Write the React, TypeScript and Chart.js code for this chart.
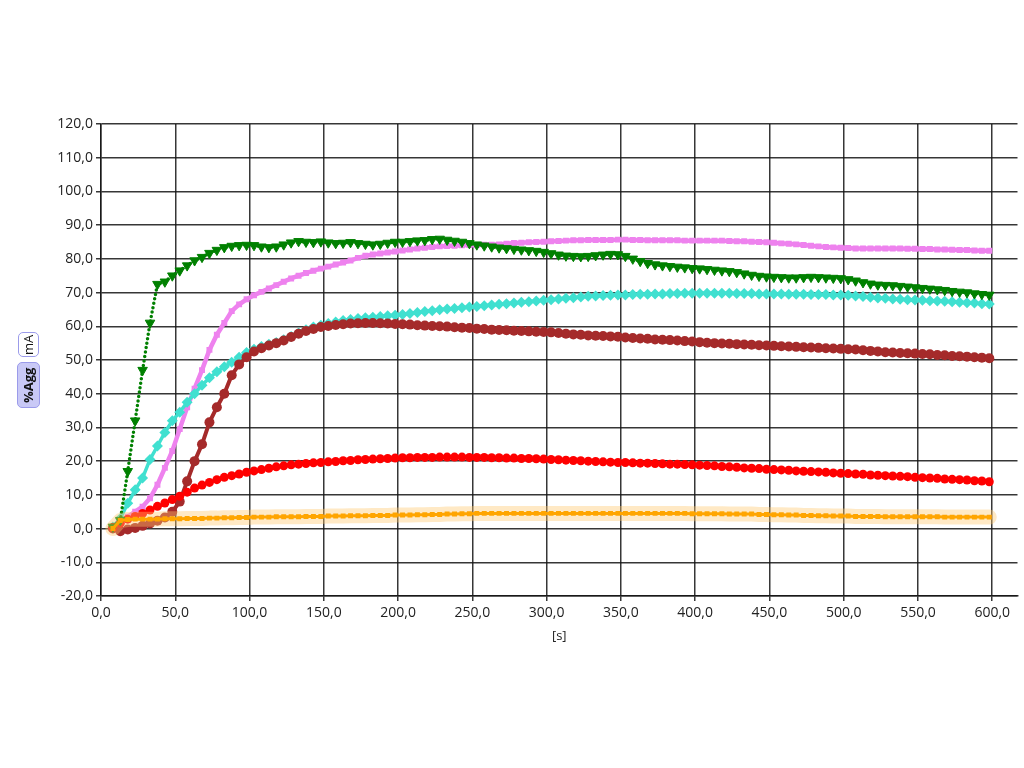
import React, { useEffect, useRef } from "react";
import { Chart, registerables } from "chart.js";

Chart.register(...registerables);

// time axis (s)
const times = [
  8, 13, 18, 23, 28, 33, 38, 43, 48, 53,
  58, 63, 68, 73, 78, 83, 88, 93, 98, 103,
  108, 113, 118, 123, 128, 133, 138, 143, 148, 153,
  158, 163, 168, 173, 178, 183, 188, 193, 198, 203,
  208, 213, 218, 223, 228, 233, 238, 243, 248, 253,
  258, 263, 268, 273, 278, 283, 288, 293, 298, 303,
  308, 313, 318, 323, 328, 333, 338, 343, 348, 353,
  358, 363, 368, 373, 378, 383, 388, 393, 398, 403,
  408, 413, 418, 423, 428, 433, 438, 443, 448, 453,
  458, 463, 468, 473, 478, 483, 488, 493, 498, 503,
  508, 513, 518, 523, 528, 533, 538, 543, 548, 553,
  558, 563, 568, 573, 578, 583, 588, 593, 598,
];

const greenValues = [
  0.5, 2.5, 17, 32, 47, 61, 72.5, 73.2, 75, 76.5,
  78, 79.5, 80.5, 81.7, 82.6, 83.4, 83.8, 84, 84.1, 84,
  83.6, 83.4, 83.6, 84.2, 84.8, 85.2, 85, 84.9, 85.1, 84.8,
  84.6, 84.7, 84.9, 84.6, 84.4, 84.2, 84.4, 84.7, 85, 85,
  85.2, 85.4, 85.5, 85.8, 85.9, 85.6, 85.3, 85, 84.6, 84.2,
  83.9, 83.6, 83.3, 83.1, 82.9, 82.7, 82.5, 82.3, 82, 81.6,
  81.2, 80.9, 80.8, 80.7, 80.8, 81, 81.2, 81.4, 81.3, 80.8,
  80, 79.3, 78.7, 78.3, 78, 77.8, 77.6, 77.4, 77.2, 77.1,
  76.9, 76.7, 76.5, 76.3, 76, 75.6, 75.2, 74.9, 74.7, 74.6,
  74.5, 74.4, 74.4, 74.5, 74.6, 74.5, 74.4, 74.3, 74.2, 73.9,
  73.5, 73, 72.6, 72.3, 72.2, 72.1, 71.9, 71.7, 71.5, 71.3,
  71.1, 70.9, 70.7, 70.4, 70.2, 70, 69.7, 69.5, 69.3,
];

const violetValues = [
  0.5, 2.5, 3.5, 5, 6.5, 9, 13, 18, 23, 29.5,
  36, 41.5, 47, 53, 57.5, 61, 64.5, 66.5, 68, 69.2,
  70.2, 71.2, 72.2, 73.2, 74.2, 75, 75.8, 76.5, 77.1, 77.7,
  78.3, 78.9, 79.5, 80.3, 80.9, 81.3, 81.6, 81.9, 82.2, 82.5,
  82.8, 83.1, 83.3, 83.5, 83.7, 83.8, 83.9, 84, 84.1, 84.1,
  84.2, 84.2, 84.3, 84.5, 84.7, 84.8, 84.9, 85, 85.1, 85.2,
  85.3, 85.4, 85.5, 85.5, 85.6, 85.6, 85.6, 85.6, 85.7, 85.7,
  85.6, 85.6, 85.5, 85.5, 85.5, 85.5, 85.5, 85.4, 85.4, 85.4,
  85.4, 85.4, 85.4, 85.3, 85.2, 85.2, 85.1, 85, 84.9, 84.8,
  84.6, 84.5, 84.3, 84.1, 83.9, 83.7, 83.5, 83.4, 83.3, 83.2,
  83.1, 83.1, 83.1, 83.1, 83.1, 83.1, 83.1, 83, 83, 82.9,
  82.9, 82.8, 82.8, 82.7, 82.6, 82.6, 82.5, 82.4, 82.4,
];

const turquoiseValues = [
  0.5, 3, 7.5, 11.5, 15, 20.5, 24.5, 28.5, 32, 34.5,
  37.5, 40, 42.5, 44.7, 46.5, 48, 49.3, 50.8, 52.2, 53.2,
  54, 54.7, 55.2, 56, 57, 58, 59, 59.8, 60.3, 60.8,
  61.3, 61.7, 62, 62.3, 62.5, 62.7, 62.9, 63.1, 63.3, 63.5,
  63.8, 64.1, 64.4, 64.6, 64.9, 65.1, 65.3, 65.5, 65.7, 65.9,
  66.1, 66.3, 66.5, 66.7, 66.9, 67.1, 67.3, 67.5, 67.7, 67.9,
  68.1, 68.3, 68.5, 68.7, 68.9, 69, 69.1, 69.2, 69.3, 69.3,
  69.4, 69.5, 69.5, 69.6, 69.6, 69.7, 69.7, 69.8, 69.8, 69.8,
  69.8, 69.8, 69.8, 69.8, 69.7, 69.7, 69.7, 69.6, 69.6, 69.6,
  69.6, 69.5, 69.5, 69.5, 69.4, 69.4, 69.4, 69.3, 69.3, 69.2,
  69, 68.8, 68.6, 68.4, 68.3, 68.1, 68, 67.9, 67.8, 67.7,
  67.6, 67.5, 67.4, 67.3, 67.1, 67, 66.9, 66.7, 66.6,
];

const brownValues = [
  0, -0.8, -0.3, 0.2, 0.8, 1.5, 2.3, 3.3, 5, 8,
  14, 20, 25, 31.5, 36, 40, 45.5, 48.7, 50.8, 52.5,
  53.5, 54.3, 55, 55.8, 56.8, 57.8, 58.6, 59.2, 59.8, 60.1,
  60.4, 60.6, 60.8, 60.9, 61, 61, 60.9, 60.8, 60.7, 60.6,
  60.5, 60.3, 60.2, 60.1, 60, 59.9, 59.7, 59.6, 59.5, 59.3,
  59.2, 59, 58.9, 58.8, 58.7, 58.6, 58.5, 58.4, 58.3, 58.2,
  58, 57.8, 57.6, 57.5, 57.3, 57.2, 57.1, 57, 56.9, 56.7,
  56.5, 56.4, 56.3, 56.1, 56, 55.9, 55.8, 55.6, 55.5, 55.3,
  55.1, 55, 54.9, 54.8, 54.7, 54.6, 54.5, 54.4, 54.3, 54.2,
  54.1, 54, 53.9, 53.8, 53.7, 53.6, 53.5, 53.4, 53.3, 53.2,
  53.1, 52.9, 52.7, 52.5, 52.3, 52.2, 52.1, 52, 51.9, 51.8,
  51.7, 51.5, 51.4, 51.2, 51.1, 51, 50.8, 50.7, 50.5,
];

const redValues = [
  0.3, 1.6, 2.8, 3.6, 4.5, 5.5, 6.6, 7.6, 8.6, 9.6,
  10.8, 12, 12.9, 13.7, 14.5, 15.2, 15.7, 16.2, 16.7, 17.1,
  17.5, 17.9, 18.3, 18.6, 18.9, 19.1, 19.3, 19.5, 19.6, 19.8,
  19.9, 20.1, 20.2, 20.4, 20.5, 20.6, 20.7, 20.8, 20.9, 21,
  21, 21.1, 21.1, 21.1, 21.2, 21.2, 21.2, 21.2, 21.1, 21.1,
  21.1, 21, 21, 20.9, 20.9, 20.8, 20.8, 20.7, 20.6, 20.5,
  20.4, 20.3, 20.2, 20.1, 20, 19.9, 19.8, 19.7, 19.6, 19.6,
  19.5, 19.4, 19.4, 19.3, 19.2, 19.1, 19.1, 19, 18.9, 18.8,
  18.7, 18.6, 18.4, 18.3, 18.2, 18, 17.9, 17.8, 17.6, 17.5,
  17.4, 17.3, 17.1, 17, 16.9, 16.8, 16.7, 16.5, 16.4, 16.3,
  16.2, 16.1, 15.9, 15.8, 15.7, 15.6, 15.5, 15.4, 15.2, 15.1,
  15, 14.9, 14.7, 14.6, 14.5, 14.4, 14.2, 14.1, 13.9,
];

const orangeValues = [
  0, 2.4, 2.7, 2.8, 2.8, 2.8, 2.8, 2.9, 2.9, 2.9,
  3, 3, 3, 3.1, 3.1, 3.2, 3.2, 3.3, 3.3, 3.4,
  3.4, 3.4, 3.5, 3.5, 3.5, 3.5, 3.6, 3.6, 3.6, 3.7,
  3.7, 3.7, 3.8, 3.8, 3.8, 3.9, 3.9, 3.9, 4, 4,
  4, 4.1, 4.1, 4.2, 4.2, 4.3, 4.3, 4.4, 4.4, 4.5,
  4.5, 4.5, 4.5, 4.5, 4.5, 4.5, 4.5, 4.5, 4.5, 4.5,
  4.5, 4.5, 4.5, 4.5, 4.5, 4.5, 4.5, 4.5, 4.5, 4.5,
  4.5, 4.5, 4.5, 4.5, 4.5, 4.5, 4.5, 4.5, 4.4, 4.4,
  4.4, 4.4, 4.4, 4.3, 4.3, 4.3, 4.3, 4.2, 4.2, 4.1,
  4.1, 4, 4, 3.9, 3.9, 3.8, 3.8, 3.7, 3.7, 3.7,
  3.6, 3.6, 3.6, 3.6, 3.5, 3.5, 3.5, 3.5, 3.5, 3.5,
  3.5, 3.5, 3.4, 3.4, 3.4, 3.4, 3.4, 3.4, 3.4,
];

const xTitle = "[s]";
const unitButtons = ["mA", "%Agg"];

const fmt = (v: number) => v.toFixed(1).replace(".", ",");
const GRID = "rgba(20,20,20,0.85)";

export default function App() {
  const ref = useRef<HTMLCanvasElement>(null);

  useEffect(() => {
    document.body.style.margin = "0";
    const pts = (vals: number[]) => times.map((t, i) => ({ x: t, y: vals[i] }));
    const chart = new Chart(ref.current as HTMLCanvasElement, {
      type: "line",
      data: {
        datasets: [
          {
            label: "orange",
            data: pts(orangeValues),
            borderColor: "#FFA500",
            backgroundColor: "#FFA500",
            borderWidth: 3,
            pointStyle: "rect",
            pointRadius: 3.5,
            pointBorderWidth: 0,
          },
          {
            label: "orangeHalo",
            data: pts(orangeValues),
            borderColor: "rgba(255,200,110,0.4)",
            borderWidth: 15,
            borderCapStyle: "round",
            borderJoinStyle: "round",
            pointRadius: 0,
          },
          {
            label: "green",
            data: pts(greenValues),
            borderColor: "#008000",
            backgroundColor: "#008000",
            borderWidth: 3.5,
            borderDash: [0, 4.5],
            borderCapStyle: "round",
            pointStyle: "triangle",
            pointRotation: 180,
            pointRadius: 5.5,
            pointBorderWidth: 1,
          },
          {
            label: "red",
            data: pts(redValues),
            borderColor: "#FF0000",
            backgroundColor: "#FF0000",
            borderWidth: 2.5,
            pointStyle: "circle",
            pointRadius: 4.5,
            pointBorderWidth: 0,
          },
          {
            label: "brown",
            data: pts(brownValues),
            borderColor: "#A52A2A",
            backgroundColor: "#A52A2A",
            borderWidth: 4,
            pointStyle: "circle",
            pointRadius: 5,
            pointBorderWidth: 0,
          },
          {
            label: "turquoise",
            data: pts(turquoiseValues),
            borderColor: "#40E0D0",
            backgroundColor: "#40E0D0",
            borderWidth: 3.5,
            pointStyle: "rectRot",
            pointRadius: 5.5,
            pointBorderWidth: 0,
          },
          {
            label: "violet",
            data: pts(violetValues),
            borderColor: "#EE82EE",
            backgroundColor: "#EE82EE",
            borderWidth: 4.5,
            pointStyle: "rect",
            pointRadius: 4.2,
            pointBorderWidth: 0,
          },
        ],
      },
      options: {
        responsive: false,
        animation: false,
        devicePixelRatio: 1,
        layout: { padding: { left: 0, top: 124, right: 4, bottom: 0 } },
        plugins: { legend: { display: false }, tooltip: { enabled: false } },
        scales: {
          x: {
            type: "linear",
            min: 0,
            max: 617,
            afterFit: (s: any) => {
              s.height = 172;
            },
            ticks: {
              stepSize: 50,
              includeBounds: false,
              padding: 4,
              color: "#222",
              font: { family: "'Open Sans', sans-serif", size: 14 },
              callback: (v: any) => fmt(Number(v)),
              maxRotation: 0,
            },
            grid: { color: GRID, lineWidth: 1.5, tickLength: 5 },
            border: { color: GRID, width: 1.5 },
            title: {
              display: true,
              text: xTitle,
              color: "#222",
              font: { family: "'Open Sans', sans-serif", size: 13 },
              padding: { top: 0, bottom: 124 },
            },
          },
          y: {
            type: "linear",
            min: -20,
            max: 120,
            afterFit: (s: any) => {
              s.width = 101;
            },
            ticks: {
              stepSize: 10,
              padding: 3,
              color: "#222",
              font: { family: "'Open Sans', sans-serif", size: 14 },
              callback: (v: any) => fmt(Number(v)),
            },
            grid: { color: GRID, lineWidth: 1.5, tickLength: 5 },
            border: { color: GRID, width: 1.5 },
          },
        },
      } as any,
    });
    return () => chart.destroy();
  }, []);

  const btnBase: React.CSSProperties = {
    position: "absolute",
    boxSizing: "border-box",
    borderRadius: 5,
    border: "1px solid #9b9bea",
    display: "flex",
    alignItems: "center",
    justifyContent: "center",
    fontFamily: "'Open Sans', sans-serif",
    fontSize: 13,
    color: "#111",
    writingMode: "vertical-rl",
    transform: "rotate(180deg)",
    lineHeight: 1,
  };

  return (
    <div style={{ position: "absolute", left: 0, top: 0, width: 1024, height: 768, background: "#fff" }}>
      <canvas
        ref={ref}
        width={1024}
        height={768}
        style={{ position: "absolute", left: 0, top: 0, width: 1024, height: 768 }}
      />
      <div style={{ ...btnBase, left: 18, top: 332, width: 21, height: 25, background: "#fff" }}>
        {unitButtons[0]}
      </div>
      <div
        style={{
          ...btnBase,
          left: 17,
          top: 362,
          width: 23,
          height: 46,
          background: "#c9c9f6",
          fontWeight: 700,
        }}
      >
        {unitButtons[1]}
      </div>
    </div>
  );
}
